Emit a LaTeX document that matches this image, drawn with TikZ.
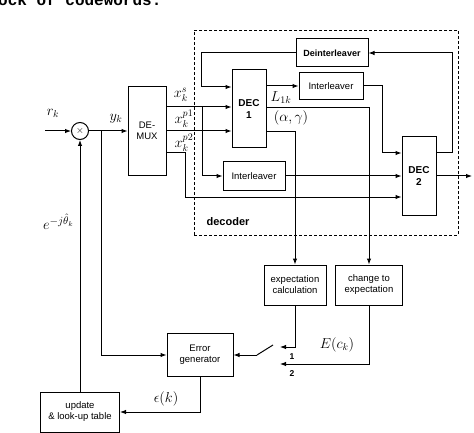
\documentclass[tikz,border=0pt]{standalone}
\usepackage{amsmath}
\usepackage{fontspec}
\setsansfont{Liberation Sans}
\setmonofont{Liberation Mono}
\usetikzlibrary{arrows.meta}
\begin{document}
\begin{tikzpicture}[x=1pt, y=-1pt, >={Latex[length=6pt,width=4.5pt]},
	blk/.style={rectangle, draw=black, line width=1pt, inner sep=1pt, align=center, font=\sffamily\fontsize{9.5}{11}\selectfont},
	decblk/.style={blk, minimum width=34, minimum height=78, font=\sffamily\bfseries\fontsize{10}{12}\selectfont},
	lbl/.style={inner sep=0pt, font=\fontsize{14}{16}\selectfont},
	wire/.style={->, line width=1pt},
	]
	\useasboundingbox (0,0) rectangle (474,433);
		%Nodes
    \node[anchor=base west, inner sep=0pt, font=\ttfamily\bfseries\fontsize{16}{18}\selectfont] (head) at (-2,6) {ock of codewords.};
    \node[draw, densely dashed, line width=0.9pt, minimum width=264, minimum height=205, inner sep=0pt] (decbox) at (326,132.5) {};
    \node[circle, draw, line width=1pt, minimum size=17, inner sep=0pt] (mult) at (80,131) {$\times$};
    \node[blk, minimum width=38, minimum height=89] (demux) at (147,131) {DE-\\MUX};
    \node[decblk] (dec1) at (249,109) {DEC\\1};
    \node[blk, minimum width=72, minimum height=28, font=\sffamily\bfseries\fontsize{9}{10}\selectfont] (deint) at (332,53) {Deinterleaver};
    \node[blk, minimum width=64, minimum height=27] (intl1) at (331,86) {Interleaver};
    \node[blk, minimum width=62, minimum height=28] (intl2) at (254,176) {Interleaver};
    \node[decblk] (dec2) at (419,176) {DEC\\2};
    \node[blk, minimum width=62, minimum height=40] (expcalc) at (295,285) {expectation\\calculation};
    \node[blk, minimum width=67, minimum height=40] (chexp) at (369,285) {change to\\expectation};
    \node[blk, minimum width=66, minimum height=43] (errgen) at (200,355) {Error\\generator};
    \node[blk, minimum width=79, minimum height=40] (update) at (80,412) {update\\\& look-up table};
    \node[font=\sffamily\bfseries\fontsize{11}{13}\selectfont] (declbl) at (228,222) {decoder};

		%Coordinates
    \coordinate (in) at (45,131);
    \coordinate (out) at (474,176);
    \coordinate (xs) at ([yshift=24pt]demux.east);
    \coordinate (xp2) at ([yshift=-22pt]demux.east);
    \coordinate (br) at (101,131);
    \coordinate (sw1) at (280,347);
    \coordinate (sw2) at (280,364);
    \coordinate (swp) at (257,355);
    \coordinate (swt) at (273,345);

		%Labels
    \node[lbl] (rk) at (53,113) {$r_k$};
    \node[lbl] (yk) at (116,119) {$y_k$};
    \node[lbl] (xsl) at (181,95) {$x_k^s$};
    \node[lbl] (xp1l) at (184,119) {$x_k^{p1}$};
    \node[lbl] (xp2l) at (184,143) {$x_k^{p2}$};
    \node[lbl] (Ll) at (281,98) {$L_{1k}$};
    \node[lbl] (agl) at (291,118) {$(\alpha,\gamma)$};
    \node[lbl, anchor=east, font=\fontsize{15}{17}\selectfont] (thl) at (74,222) {$e^{-j\hat{\theta}_k}$};
    \node[lbl] (Ecl) at (337,345) {$E(c_k)$};
    \node[lbl] (ekl) at (166,399) {$\epsilon(k)$};
    \node[font=\sffamily\bfseries\fontsize{8.5}{10}\selectfont] (one) at (292,357) {1};
    \node[font=\sffamily\bfseries\fontsize{8.5}{10}\selectfont] (two) at (292,374) {2};

		%Lines
		\draw[wire] (in) to (mult.west);
		\draw[wire] (mult.east) to (demux.west);
		\draw[wire] (br) |- (errgen.west);
		\draw[wire] (xs) to (xs -| dec1.west);
		\draw[wire] (demux.east) to (demux.east -| dec1.west);
		\draw[wire] (xp2) -- ++(19,0) |- ([yshift=-21pt]dec2.west);
		\draw[wire] ([xshift=36pt]xs) |- (intl2.west);
		\draw[wire] (intl2.east) to (intl2.east -| dec2.west);
		\draw[wire] (deint.west) -- ++(-94,0) |- ([yshift=22pt]dec1.west);
		\draw[wire] (intl1.west -| dec1.east) to (intl1.west);
		\draw[wire] (intl1.east) -- ++(19,0) |- ([yshift=23pt]dec2.west);
		\draw[wire] ([yshift=23pt]dec2.east) -- ++(16,0) |- (deint.east);
		\draw[wire] (dec2.east) to ([xshift=-2pt]out);
		\draw[wire] ([yshift=1pt]dec1.east) -| (chexp.north);
		\draw[wire] ([yshift=-23pt]dec1.east) -| (expcalc.north);
		\draw[wire] (expcalc.south) |- (sw1);
		\draw[wire] (chexp.south) |- (sw2);
		\draw[wire] (swp) to (errgen.east);
		\draw[line width=1pt] (swp) to (swt);
		\draw[wire] (errgen.south) |- (update.east);
		\draw[wire] (update.north) to (mult.south);
	\end{tikzpicture}
\end{document}
